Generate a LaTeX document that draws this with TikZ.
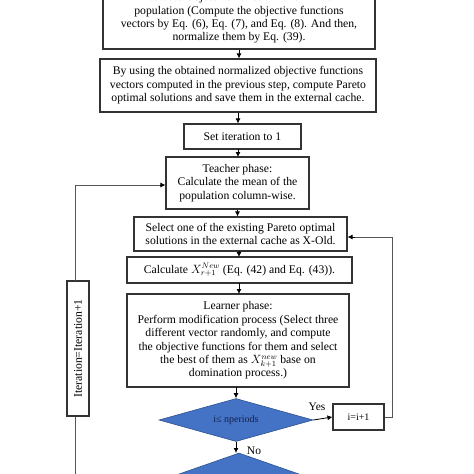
\documentclass[tikz,border=0pt]{standalone}
\usepackage{fontspec}
\setmainfont{Liberation Serif}
\usetikzlibrary{shapes.geometric,arrows.meta}
\definecolor{boxline}{HTML}{333333}
\definecolor{conline}{HTML}{555555}
\definecolor{dfill}{HTML}{4472C4}
\definecolor{dline}{HTML}{2F528F}
\definecolor{dtext}{HTML}{14224A}
\tikzset{
  procbox/.style={draw=boxline, line width=1.1pt, fill=white, align=center, inner sep=1pt,
    font=\fontsize{11.7}{13.4}\selectfont, text=black},
  decbox/.style={diamond, draw=dline, line width=0.6pt, fill=dfill, inner sep=0pt, aspect=3.6,
    font=\fontsize{10}{12}\selectfont, text=dtext},
  arr/.style={draw=black, line width=0.8pt, -{Latex[length=5pt,width=5pt]}},
  conn/.style={draw=conline, line width=0.8pt},
  lbl/.style={font=\fontsize{11.5}{12}\selectfont, inner sep=0pt}
}
\begin{document}
\begin{tikzpicture}[x=1pt,y=-1pt]
\useasboundingbox (0,0) rectangle (474,474);
\clip (0,0) rectangle (474,474);
\fill[white] (0,0) rectangle (474,474);
% boxes
\node[procbox, minimum width=272pt, minimum height=62pt] (b1) at (239,18) {Evaluate Objective Function for an initial\\population (Compute the objective functions\\vectors by Eq. (6), Eq. (7), and Eq. (8). And then,\\normalize them by Eq. (39).};
\node[procbox, minimum width=276pt, minimum height=53pt] (b2) at (238,85.5) {By using the obtained normalized objective functions\\vectors computed in the previous step, compute Pareto\\optimal solutions and save them in the external cache.};
\node[procbox, minimum width=117pt, minimum height=25pt] (b3) at (242.5,136.5) {Set iteration to 1};
\node[procbox, minimum width=143pt, minimum height=52pt] (b4) at (237.5,183) {Teacher phase:\\Calculate the mean of the\\population column-wise.};
\node[procbox, minimum width=213pt, minimum height=34pt] (b5) at (240.5,234) {Select one of the existing Pareto optimal\\solutions in the external cache as X-Old.};
\node[procbox, minimum width=225pt, minimum height=26pt] (b6) at (239.5,270) {Calculate $X^{New}_{r+1}$ (Eq. (42) and Eq. (43)).};
\node[procbox, minimum width=222pt, minimum height=93pt] (b7) at (238,340.5) {Learner phase:\\Perform modification process (Select three\\different vector randomly, and compute\\the objective functions for them and select\\the best of them as $X^{new}_{k+1}$ base on\\domination process.)};
\node[decbox, minimum width=154pt, minimum height=43pt] (d1) at (236,420) {i≤ nperiods};
\node[decbox, aspect=2.85, minimum width=160pt, minimum height=56pt] (d2) at (239,481) {};
\node[procbox, minimum width=51pt, minimum height=26pt] (inc) at (358.5,417) {\fontsize{10}{11}\selectfont i=i+1};
\node[procbox, minimum width=135pt, minimum height=22pt, rotate=90] (iter) at (78,348.5) {Iteration=Iteration+1};
% coordinates
\coordinate (lb) at (75,480);
\coordinate (lt) at (75,185);
\coordinate (rt) at (392,237);
\coordinate (rb) at (392,417);
% main arrows
\draw[arr] (b1.south) -- (b1.south |- b2.north);
\draw[arr] (b2.south) -- (b2.south |- b3.north);
\draw[arr] (238,149) -- (238,157);
\draw[arr] (b4.south) -- (b4.south |- b5.north);
\draw[arr] (239,251) -- (239,257);
\draw[arr] (239,283) -- (239,294);
\draw[arr] (236,387) -- (d1.north);
\draw[arr] (d1.south) -- (236,453);
\draw[arr] (d1.east) -- (inc.west);
% loops
\draw[conn] (lb) -- (75,416.5);
\draw[conn] (75,280.5) -- (lt);
\draw[conn] (lt) -- (160,185);
\draw[arr] (160,185) -- (b4.west |- lt);
\draw[conn] (inc.east) -- (rb) -- (rt) -- (355,237);
\draw[arr] (355,237) -- (b5.east |- rt);
% labels
\node[lbl] (yes) at (317,407) {Yes};
\node[lbl] (no) at (254,451) {No};
\end{tikzpicture}
\end{document}
